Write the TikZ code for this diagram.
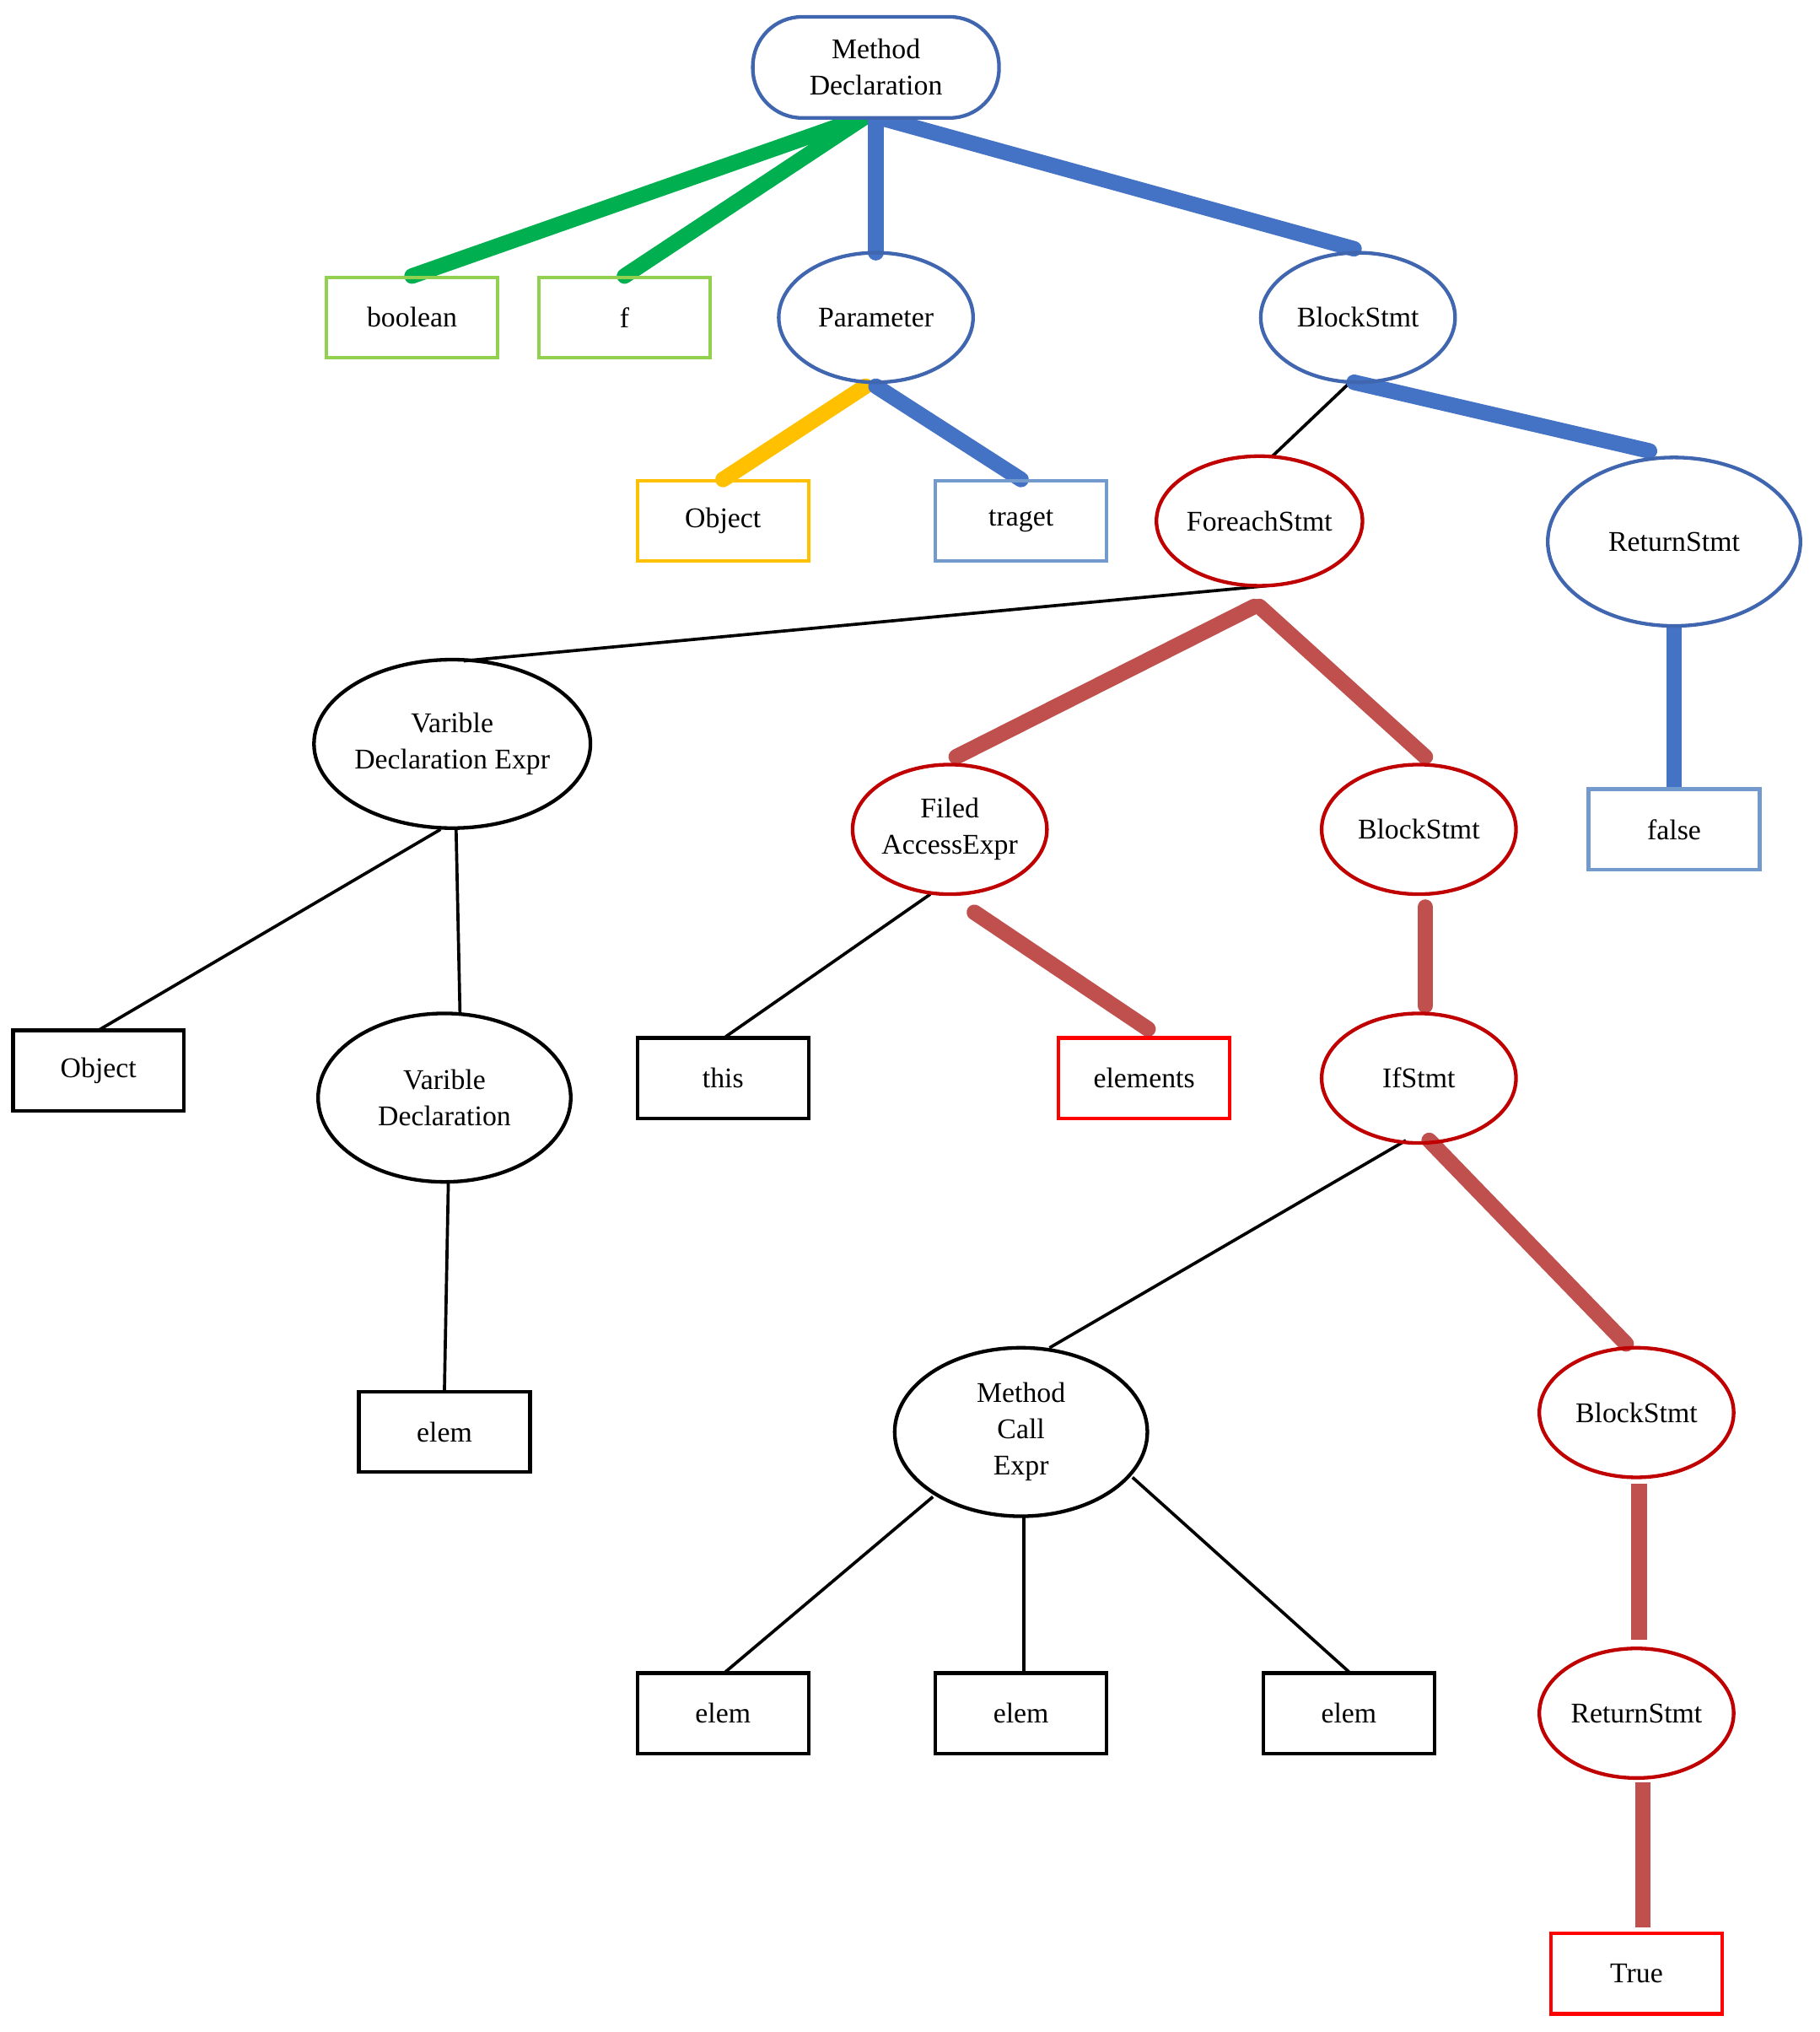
\documentclass[tikz,border=0pt]{standalone}
\usepackage{fontspec}
\setmainfont{Liberation Serif}
\usetikzlibrary{shapes.geometric}
\begin{document}
\begin{tikzpicture}[x=0.5pt,y=-0.5pt,
 every node/.style={font=\fontsize{11}{14}\selectfont,align=center,inner sep=0pt},
 el/.style={draw,ellipse,line width=1.4pt,minimum width=#1*0.5pt},
 rc/.style={draw,rectangle,line width=1.4pt,minimum width=66pt,minimum height=31pt},
 thin/.style={line width=1.2pt},
 thick/.style={line width=6pt,line cap=round},
 bl/.style={draw=nb}, rd/.style={draw=nr}]
\definecolor{nb}{HTML}{4066B0}\definecolor{nr}{HTML}{C00000}
\definecolor{eb}{HTML}{4472C4}\definecolor{er}{HTML}{C0504D}
\definecolor{eg}{HTML}{00B050}\definecolor{eo}{HTML}{FFC000}
\definecolor{lg}{HTML}{92D050}\definecolor{lb}{HTML}{729ACD}\definecolor{rr}{HTML}{FF0000}
\path[use as bounding box] (0,0) rectangle (1404,1568);
% edges
\draw[thick,eg] (668,90)--(318,213); \draw[thick,eg] (668,90)--(482,213);
\draw[thick,eb] (676,90)--(676,195); \draw[thick,eb] (676,90)--(1045,192);
\draw[thick,eo] (668,298)--(558,370); \draw[thick,eb] (676,298)--(788,370);
\draw[thin] (1042,295)--(982,352); \draw[thick,eb] (1045,295)--(1273,348);
\draw[thin] (978,452)--(358,510);
\draw[thick,er] (968,468)--(738,584); \draw[thick,er] (972,468)--(1100,584);
\draw[thick,eb,line cap=butt] (1292,484)--(1292,607);
\draw[thin] (340,640)--(76,795); \draw[thin] (352,640)--(355,782);
\draw[thin] (718,690)--(560,800); \draw[thick,er] (752,704)--(886,794);
\draw[thick,er] (1100,700)--(1100,776);
\draw[thin] (346,913)--(343,1073);
\draw[thin] (1085,880)--(810,1040); \draw[thick,er] (1103,880)--(1255,1037);
\draw[thin] (720,1155)--(560,1290); \draw[thin] (790,1170)--(790,1290); \draw[thin] (874,1140)--(1041,1290);
\draw[thick,er,line cap=butt] (1265,1145)--(1265,1265);
\draw[thick,er,line cap=butt] (1268,1375)--(1268,1487);
% nodes
\node[bl,draw,line width=1.4pt,rounded corners=19pt,minimum width=95pt,minimum height=39pt,fill=white] (md) at (676,52) {Method\\Declaration};
\node[rc,draw=lg] (bool) at (318,245) {boolean};
\node[rc,draw=lg] (f) at (482,245) {f};
\node[el=150,bl,minimum height=50pt] (par) at (676,245) {Parameter};
\node[el=150,bl,minimum height=50pt] (bs1) at (1048,245) {BlockStmt};
\node[rc,draw=eo] (obj1) at (558,402) {Object};
\node[rc,draw=lb] (tr) at (788,402) {traget};
\node[el=150,rd,minimum height=50pt] (fe) at (972,402) {ForeachStmt};
\node[el=195,bl,minimum height=65pt] (rs1) at (1292,418) {ReturnStmt};
\node[el=195,minimum height=65pt] (vde) at (349,574) {Varible\\Declaration Expr};
\node[el=150,rd,minimum height=50pt] (fa) at (733,640) {Filed\\AccessExpr};
\node[el=150,rd,minimum height=50pt] (bs2) at (1095,640) {BlockStmt};
\node[rc,draw=lb] (fl) at (1292,640) {false};
\node[rc] (obj2) at (76,826) {Object};
\node[el=195,minimum height=65pt] (vd) at (343,847) {Varible\\Declaration};
\node[rc] (this) at (558,832) {this};
\node[rc,draw=rr] (elm) at (883,832) {elements};
\node[el=150,rd,minimum height=50pt] (if) at (1095,832) {IfStmt};
\node[rc] (e0) at (343,1105) {elem};
\node[el=195,minimum height=65pt] (mce) at (788,1105) {Method\\Call\\Expr};
\node[el=150,rd,minimum height=50pt] (bs3) at (1263,1090) {BlockStmt};
\node[rc] (e1) at (558,1322) {elem};
\node[rc] (e2) at (788,1322) {elem};
\node[rc] (e3) at (1041,1322) {elem};
\node[el=150,rd,minimum height=50pt] (rs2) at (1263,1322) {ReturnStmt};
\node[rc,draw=rr] (tru) at (1263,1523) {True};
\end{tikzpicture}
\end{document}
